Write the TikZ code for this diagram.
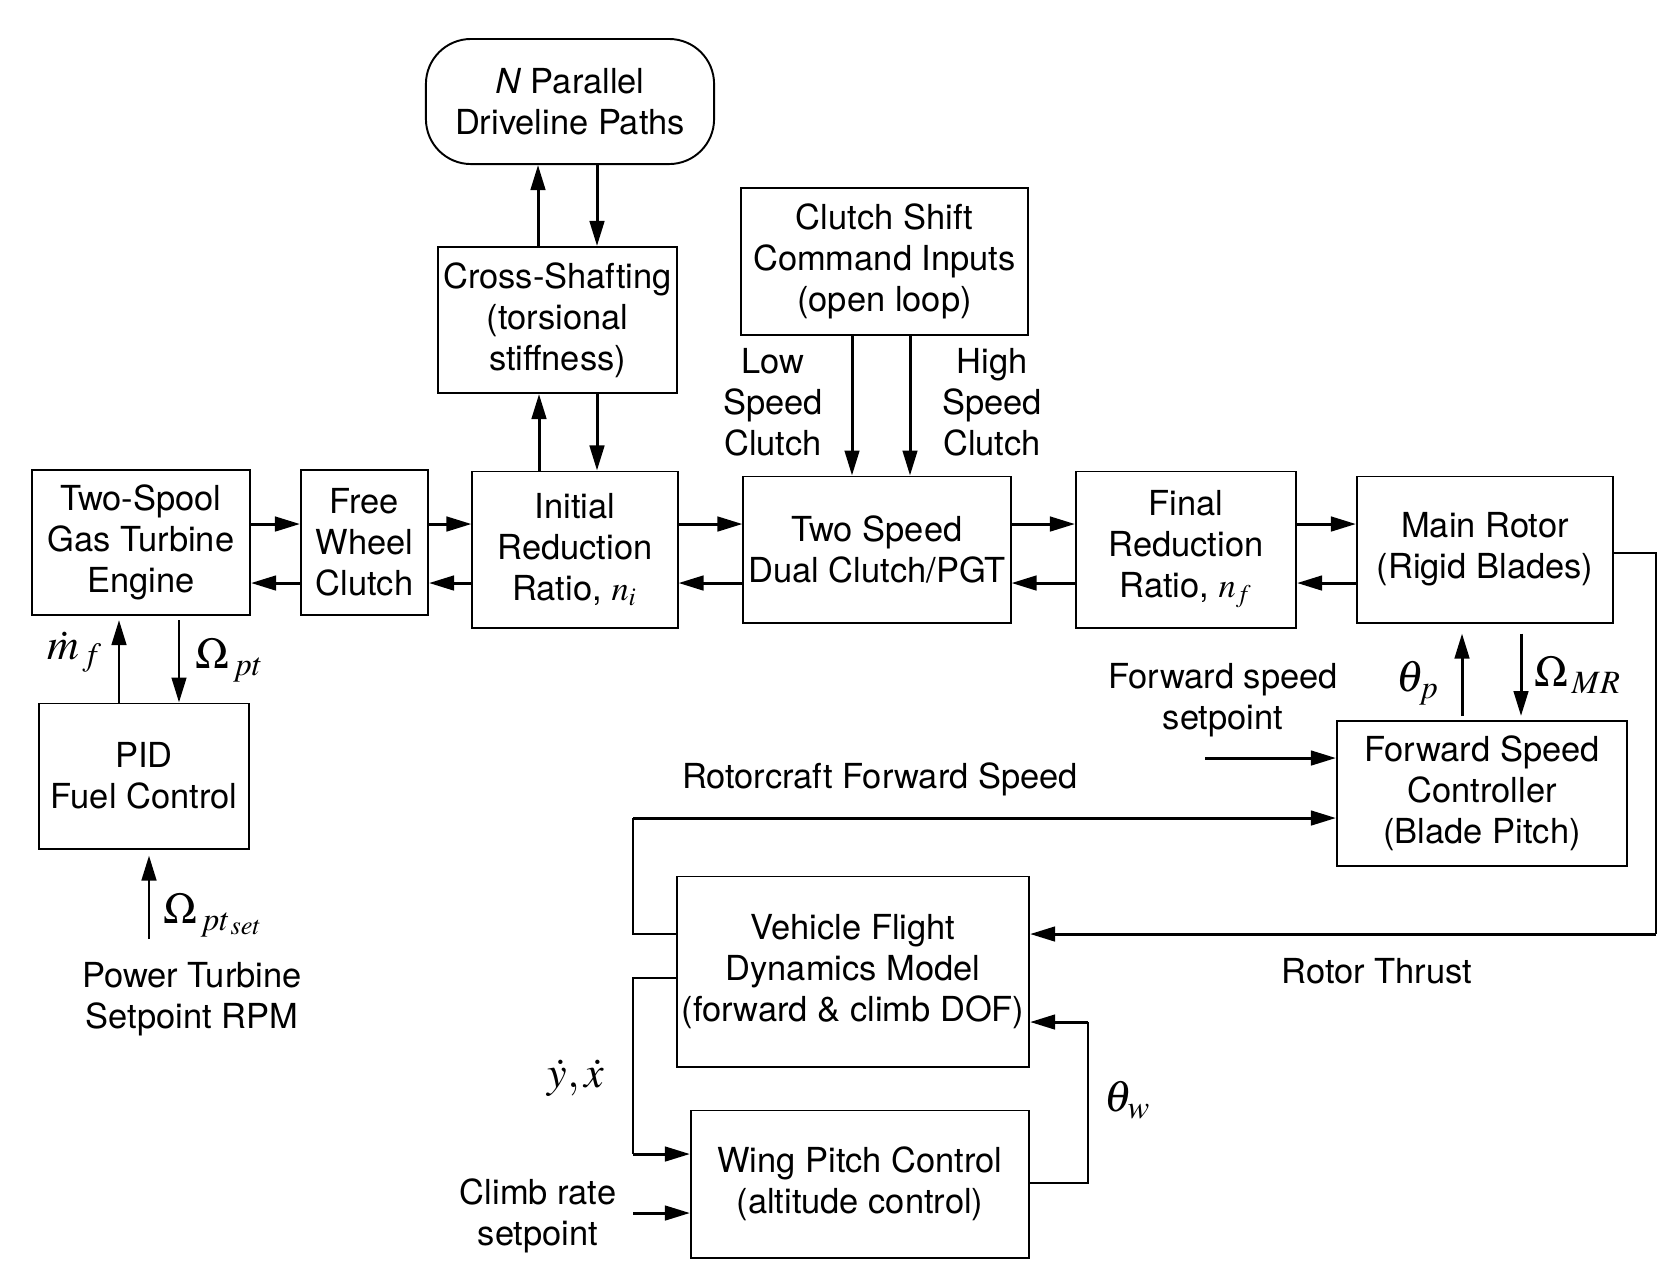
\documentclass[tikz,border=0pt]{standalone}
\usepackage{mathptmx}
\usepackage{fontspec}
\setmainfont{TeX Gyre Heros}
\usetikzlibrary{arrows.meta,positioning}

\tikzset{
  blk/.style={draw, line width=0.55pt, align=center, inner sep=0pt},
  sig/.style={-{Triangle[length=2.5mm,width=1.45mm]}, line width=0.85pt},
  wire/.style={line width=0.45pt},
  sym/.style={inner sep=0pt, font=\fontsize{12.5}{14}\selectfont},
}

\begin{document}
\begin{tikzpicture}[x=0.01cm, y=-0.01cm,
    every node/.style={font=\fontsize{9.8}{11.6}\selectfont, align=center}]
    \useasboundingbox (0,0) rectangle (1667,1265);

    % boxes
    \node[blk, rounded corners=0.45cm, minimum width=2.88cm, minimum height=1.25cm] (npp) at (570,101.5) {\textit{N} Parallel\\Driveline Paths};
    \node[blk, minimum width=2.39cm, minimum height=1.46cm] (csh) at (557.5,320) {Cross-Shafting\\(torsional\\stiffness)};
    \node[blk, minimum width=2.87cm, minimum height=1.47cm] (csc) at (884.5,261.5) {Clutch Shift\\Command Inputs\\(open loop)};
    \node[blk, minimum width=2.18cm, minimum height=1.45cm] (eng) at (141,542.5) {Two-Spool\\Gas Turbine\\Engine};
    \node[blk, minimum width=1.27cm, minimum height=1.45cm] (fwc) at (364.5,542.5) {Free\\Wheel\\Clutch};
    \node[blk, minimum width=2.05cm, minimum height=1.56cm] (irr) at (575,549.5) {Initial\\Reduction\\Ratio, $n_i$};
    \node[blk, minimum width=2.67cm, minimum height=1.46cm] (tsd) at (877,549.5) {Two Speed\\Dual Clutch/PGT};
    \node[blk, minimum width=2.20cm, minimum height=1.56cm] (frr) at (1186,549.5) {Final\\Reduction\\Ratio, $n_f$};
    \node[blk, minimum width=2.56cm, minimum height=1.46cm] (mrr) at (1485,549.5) {Main Rotor\\(Rigid Blades)};
    \node[blk, minimum width=2.10cm, minimum height=1.45cm] (pid) at (144,776) {PID\\Fuel Control};
    \node[blk, minimum width=2.90cm, minimum height=1.45cm] (fsc) at (1482,793.5) {Forward Speed\\Controller\\(Blade Pitch)};
    \node[blk, minimum width=3.52cm, minimum height=1.90cm] (vfd) at (853,971.5) {Vehicle Flight\\Dynamics Model\\(forward \& climb DOF)};
    \node[blk, minimum width=3.38cm, minimum height=1.47cm] (wpc) at (860,1184) {Wing Pitch Control\\(altitude control)};

    % free ends
    \coordinate (up) at (0,524);
    \coordinate (dn) at (0,583);
    \coordinate (pts) at (149,939);
    \coordinate (fss) at (1205,758);
    \coordinate (crs) at (633,1213);
    \coordinate (rfs) at (633,818);
    \coordinate (rth) at (1656,934);
    \coordinate (ydx) at (633,1154);
    \coordinate (thw) at (1088,1022);

    % driveline
    \foreach \a/\b in {eng/fwc, fwc/irr, irr/tsd, tsd/frr, frr/mrr} {
      \draw[sig] (\a.east |- up) -- (\b.west |- up);
      \draw[sig] (\b.west |- dn) -- (\a.east |- dn);
    }
    \draw[sig] (539,0 |- irr.north) -- (539,0 |- csh.south);
    \draw[sig] (597,0 |- csh.south) -- (597,0 |- irr.north);
    \draw[sig] (538,0 |- csh.north) -- (538,0 |- npp.south);
    \draw[sig] (597,0 |- npp.south) -- (597,0 |- csh.north);
    \draw[sig] (852,0 |- csc.south) -- (852,0 |- tsd.north);
    \draw[sig] (910,0 |- csc.south) -- (910,0 |- tsd.north);

    % fuel control
    \draw[sig, shorten >=0.04cm] (119,0 |- pid.north) -- (119,0 |- eng.south);
    \draw[sig, shorten <=0.04cm] (179,0 |- eng.south) -- (179,0 |- pid.north);
    \draw[sig, shorten >=0.06cm] (pts) -- (pts |- pid.south);

    % rotor and flight loops
    \draw[sig, shorten <=0.04cm, shorten >=0.1cm] (1462,0 |- fsc.north) -- (1462,0 |- mrr.south);
    \draw[sig, shorten <=0.1cm, shorten >=0.04cm] (1521,0 |- mrr.south) -- (1521,0 |- fsc.north);
    \draw[sig] (fss) -- (fsc.west |- fss);
    \draw[wire] (vfd.west |- 0,934) -| (rfs);
    \draw[sig] (rfs) -- (fsc.west |- rfs);
    \draw[wire] (mrr.east |- 0,553) -| (rth);
    \draw[sig] (rth) -- (vfd.east |- rth);
    \draw[wire] (vfd.west |- 0,978) -| (ydx);
    \draw[sig] (ydx) -- (wpc.west |- ydx);
    \draw[sig] (crs) -- (wpc.west |- crs);
    \draw[wire] (wpc.east |- 0,1183) -| (thw);
    \draw[sig] (thw) -- (vfd.east |- thw);

    % labels
    \node (lsc) at (773,402) {Low\\Speed\\Clutch};
    \node (hsc) at (992,402) {High\\Speed\\Clutch};
    \node (rfl) at (880,779) {Rotorcraft Forward Speed};
    \node (rtl) at (1377,971) {Rotor Thrust};
    \node (fsl) at (1223,700) {Forward speed\\setpoint};
    \node (crl) at (538,1216) {Climb rate\\setpoint};
    \node (ptl) at (192,999) {Power Turbine\\Setpoint RPM};
    \node[sym] (mf) at (75,652) {$\dot m_{\,f}$};
    \node[sym] (wpt) at (230,660) {$\Omega_{\,pt}$};
    \node[sym] (wset) at (214,915) {$\Omega_{\,pt_{\,set}}$};
    \node[sym] (thp) at (1418,683) {$\theta_{p}$};
    \node[sym] (wmr) at (1578,675) {$\Omega_{\,MR}$};
    \node[sym] (thwl) at (1128,1100) {$\theta_{w}$};
    \node[sym] (yx) at (576,1078) {$\dot y,\dot x$};
\end{tikzpicture}
\end{document}
